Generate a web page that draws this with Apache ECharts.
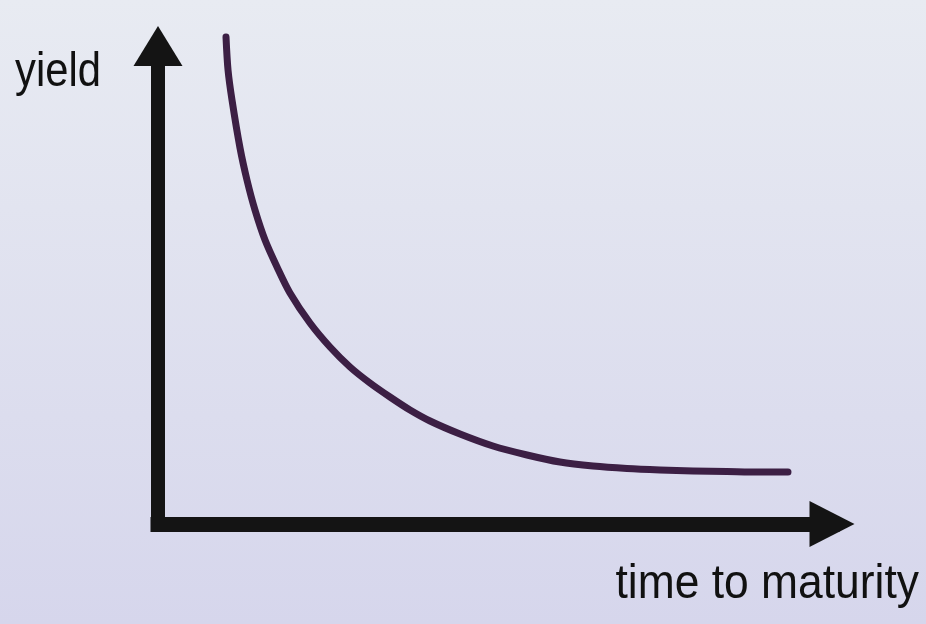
<!DOCTYPE html>
<html><head><meta charset="utf-8">
<script src="https://cdn.jsdelivr.net/npm/echarts@6/dist/echarts.min.js"></script>
<style>html,body{margin:0;padding:0;}#c{width:926px;height:624px;}</style>
</head><body><div id="c"></div>
<script>
// Stylised yield curve (no numeric ticks in the original)
const maturity = [1.009, 1.039, 1.098, 1.217, 1.320, 1.439, 1.588, 1.766, 1.958, 2.255, 2.552, 2.849, 3.145, 3.442, 3.739, 4.036, 4.481, 4.970, 5.475, 5.964, 6.454, 6.958, 7.448, 7.938, 8.442, 8.932, 9.347];
const yieldValues = [10.188, 9.498, 8.870, 7.866, 7.197, 6.569, 5.941, 5.377, 4.833, 4.205, 3.703, 3.285, 2.950, 2.657, 2.385, 2.155, 1.883, 1.632, 1.444, 1.297, 1.213, 1.161, 1.130, 1.109, 1.098, 1.088, 1.088];
const yLabel = 'yield';
const xLabel = 'time to maturity';

const chart = echarts.init(document.getElementById('c'));
const axisColor = '#141414';
chart.setOption({
  backgroundColor: {
    type: 'linear', x: 0, y: 0, x2: 0, y2: 1,
    colorStops: [{offset: 0, color: '#e8ebf2'}, {offset: 1, color: '#d6d6ec'}]
  },
  grid: {left: 158, right: 94, top: 46, bottom: 100},
  xAxis: {
    type: 'value', min: 0, max: 10,
    axisLine: {show: true, symbol: ['none', 'triangle'], symbolSize: [46, 45],
      lineStyle: {color: axisColor, width: 15, cap: 'square'}},
    axisTick: {show: false}, axisLabel: {show: false}, splitLine: {show: false}
  },
  yAxis: {
    type: 'value', min: 0, max: 10,
    axisLine: {show: true, symbol: ['none', 'triangle'], symbolSize: [49, 40],
      lineStyle: {color: axisColor, width: 14, cap: 'square'}},
    axisTick: {show: false}, axisLabel: {show: false}, splitLine: {show: false}
  },
  series: [{
    type: 'line',
    data: maturity.map((x, i) => [x, yieldValues[i]]),
    smooth: 0.3,
    clip: false,
    showSymbol: false,
    lineStyle: {color: '#3c1f44', width: 7, cap: 'round', join: 'round'}
  }],
  graphic: [
    {type: 'text', x: 15, y: 49, scaleX: 0.87,
      style: {text: yLabel, font: '48px "Liberation Sans", Arial, sans-serif', fill: '#111', align: 'left', verticalAlign: 'top'}},
    {type: 'text', x: 919, y: 561, scaleX: 0.925,
      style: {text: xLabel, font: '48px "Liberation Sans", Arial, sans-serif', fill: '#111', align: 'right', verticalAlign: 'top'}}
  ],
  animation: false
});
</script></body></html>
